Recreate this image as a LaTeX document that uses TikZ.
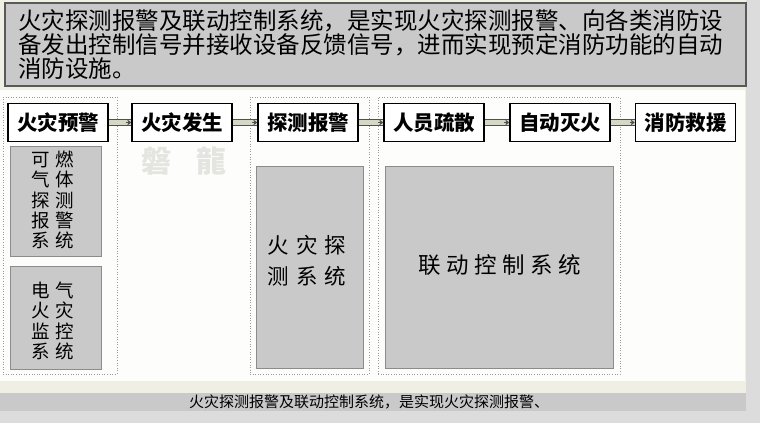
\documentclass[tikz,border=0pt]{standalone}
\usepackage{fontspec}
\setmainfont{Noto Sans CJK SC}
\usetikzlibrary{arrows.meta}
\definecolor{beige}{HTML}{F0EFE3}
\definecolor{paper}{HTML}{FDFDFB}
\definecolor{sidegray}{HTML}{DCDCDC}
\definecolor{boxgray}{HTML}{C9C9C9}
\definecolor{boxedge}{HTML}{8C8C8C}
\definecolor{bandfill}{HTML}{D5D9C4}
\definecolor{bandedge}{HTML}{505050}
\definecolor{wm}{HTML}{E4E4E0}
\tikzset{
  stepbox/.style={draw=black, line width=1.6pt, fill=white, minimum width=100pt, minimum height=38pt, inner sep=0pt, font=\fontsize{20.5}{22}\selectfont\bfseries},
  graybox/.style={draw=boxedge, line width=0.9pt, fill=boxgray, inner sep=0pt},
  grouprect/.style={draw=gray!80, line width=0.6pt, dotted},
  bandline/.style={line width=7pt, draw=bandedge, postaction={draw=bandfill, line width=4.6pt}},
  tipline/.style={draw=bandedge, line width=0.6pt, -{Stealth[length=4pt,width=6pt]}},
  vtext/.style={align=center, inner sep=0pt, text=black}
}
\newcommand\gp[1]{\hspace{#1pt}}
\begin{document}
\begin{tikzpicture}[x=1pt,y=-1pt]
\useasboundingbox (0,0) rectangle (760,423);
% background
\fill[beige] (0,0) rectangle (760,423);
\fill[paper] (0,90) rectangle (745,381);
\fill[sidegray] (746,0) rectangle (760,423);
\fill[boxgray] (0,393) rectangle (746,411);
\fill[sidegray] (0,411) rectangle (760,423);
% top description box
\node[draw=gray!70!black, line width=1.1pt, fill=boxgray, minimum width=741pt, minimum height=83pt, inner sep=0pt] (desc) at (375.5,44.5) {};
\node[anchor=north west, align=left, inner sep=0pt, font=\fontsize{23.5}{24}\selectfont] (desctext) at (18,9)
{火灾探测报警及联动控制系统，是实现火灾探测报警、向各类消防设\\
备发出控制信号并接收设备反馈信号，进而实现预定消防功能的自动\\
消防设施。};
% groups
\node[grouprect, minimum width=114pt, minimum height=277pt, inner sep=0pt] (grp1) at (60,235.5) {};
\node[grouprect, minimum width=119pt, minimum height=277pt, inner sep=0pt] (grp2) at (309.5,235.5) {};
\node[grouprect, minimum width=242pt, minimum height=277pt, inner sep=0pt] (grp3) at (499,235.5) {};
% watermark
\node[text=wm, font=\fontsize{30}{31}\selectfont\bfseries, inner sep=0pt] (wmark) at (184,161) {磐\gp{26}龍};
% step boxes
\node[stepbox] (n1) at (58,122.5) {火灾预警};
\node[stepbox] (n2) at (182,122.5) {火灾发生};
\node[stepbox] (n3) at (308,122.5) {探测报警};
\node[stepbox] (n4) at (434,122.5) {人员疏散};
\node[stepbox] (n5) at (560,122.5) {自动灭火};
\node[stepbox] (n6) at (685.5,122.5) {消防救援};
% arrows
\foreach \a/\b in {n1/n2,n2/n3,n3/n4,n4/n5,n5/n6}{
  \draw[bandline] (\a.east) -- (\b.west);
  \draw[tipline] ([xshift=-5pt]\b.west) -- (\b.west);
}
% gray boxes
\node[graybox, minimum width=91pt, minimum height=110pt] (g1) at (56,201.5) {};
\node[graybox, minimum width=91pt, minimum height=103pt] (g2) at (56,318) {};
\node[graybox, minimum width=107pt, minimum height=202pt] (g3) at (309.5,267) {};
\node[graybox, minimum width=228pt, minimum height=202pt] (g4) at (499,267) {};
\node[vtext, font=\fontsize{18.5}{20.2}\selectfont] (t1) at (52.5,200) {可\gp{6}燃\\气\gp{6}体\\探\gp{6}测\\报\gp{6}警\\系\gp{6}统};
\node[vtext, font=\fontsize{18.5}{20.5}\selectfont] (t2) at (52.5,321) {电\gp{6}气\\火\gp{6}灾\\监\gp{6}控\\系\gp{6}统};
\node[vtext, font=\fontsize{21.5}{31}\selectfont] (t3) at (307,261) {火\gp{7}灾\gp{7}探\\测\gp{7}系\gp{7}统};
\node[vtext, font=\fontsize{22.5}{24}\selectfont] (t4) at (500,265) {联\gp{5.5}动\gp{5.5}控\gp{5.5}制\gp{5.5}系\gp{5.5}统};
% caption
\node[inner sep=0pt, font=\fontsize{15}{16}\selectfont] (cap) at (369,402) {火灾探测报警及联动控制系统，是实现火灾探测报警、};
\end{tikzpicture}
\end{document}
